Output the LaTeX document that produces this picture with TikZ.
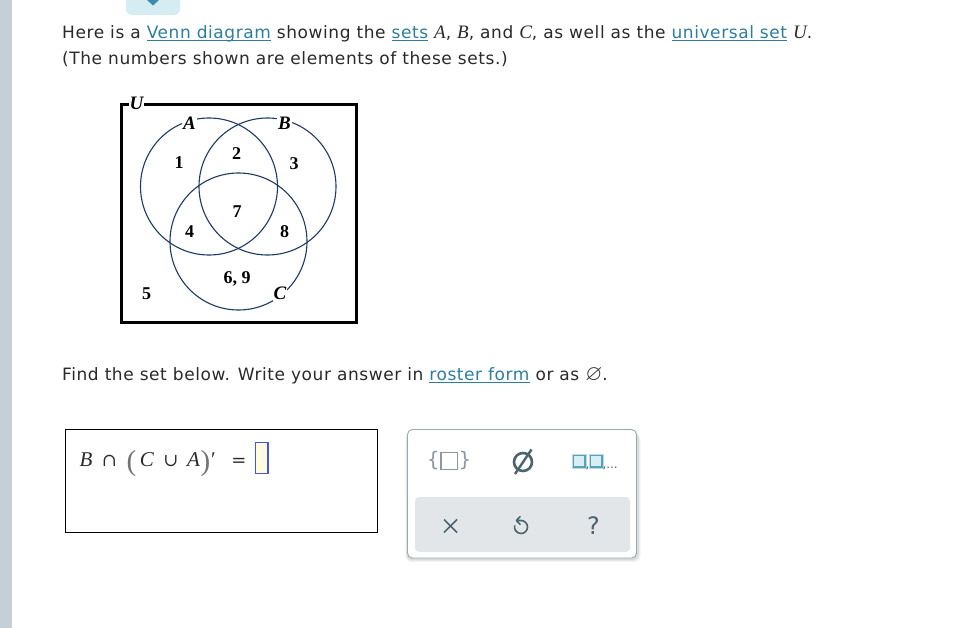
\documentclass[tikz,border=0pt]{standalone}
\usepackage{fontspec}
\usepackage{amssymb}
\setmainfont{DejaVu Sans}[LetterSpace=3.4]
\newfontfamily\djv{DejaVu Sans}
\newfontfamily\djs{DejaVu Serif}
\newfontfamily\tms{Liberation Serif}
\definecolor{linkc}{HTML}{2E7E9B}
\definecolor{bodyc}{HTML}{2A2A2A}
\definecolor{leftbar}{HTML}{C5D0D6}
\definecolor{tabc}{HTML}{D5ECF3}
\definecolor{tabarrow}{HTML}{3A8DA8}
\definecolor{venn}{HTML}{1F3A66}
\definecolor{kpborder}{HTML}{9AA8AF}
\definecolor{kpgray}{HTML}{E2E6E9}
\definecolor{iconc}{HTML}{4C6470}
\definecolor{sqfill}{HTML}{D8EEF4}
\definecolor{sqedge}{HTML}{56A2BA}
\definecolor{bracec}{HTML}{8A99A1}
\definecolor{ansfill}{HTML}{FFFBDC}
\definecolor{ansedge}{HTML}{4455EE}
\newsavebox\lnkbox
\newcommand\lnk[1]{{\color{linkc}\sbox\lnkbox{#1}\rlap{\rule[-2.8pt]{\wd\lnkbox}{1pt}}\usebox\lnkbox}}
\newcommand\mv[1]{{\tms\itshape\fontsize{19}{20}\selectfont #1}}
\tikzset{
  txt/.style={anchor=base west, inner sep=0, text=bodyc, font=\fontsize{17}{20}\selectfont},
  vcirc/.style={draw=venn, line width=1.1pt, circle, minimum size=137pt, inner sep=0},
  vlab/.style={fill=white, inner sep=0.8pt, font=\tms\bfseries\itshape\fontsize{19}{20}\selectfont},
  vnum/.style={inner sep=0, font=\tms\bfseries\fontsize{18}{20}\selectfont},
  fml/.style={anchor=base, inner sep=0, text=bodyc, font=\tms\itshape\fontsize{21}{22}\selectfont},
  fmlop/.style={anchor=base, inner sep=0, text=bodyc, font=\djs\fontsize{18}{20}\selectfont},
  fmlpar/.style={anchor=base, inner sep=0, text=black!55, font=\tms\fontsize{29}{29}\selectfont},
  icon/.style={inner sep=0, text=iconc},
}
\begin{document}
\begin{tikzpicture}[x=1pt,y=-1pt]
\useasboundingbox (0,0) rectangle (957,628);
\fill[white] (0,0) rectangle (957,628);
% left bar and top tab
\fill[leftbar] (0,0) rectangle (12,628);
\fill[tabc, rounded corners=6pt] (126,-10) rectangle (180,15);
\fill[tabarrow] (147,0) -- (159,0) -- (153,5.5) -- cycle;

% intro text
\node[txt] (l1) at (62,38.5) {Here is a \lnk{Venn diagram} showing the \lnk{sets} \mv{A}, \mv{B}, and \mv{C}, as well as the \lnk{universal set} \mv{U}.};
\node[txt] (l2) at (62,64.5) {(The numbers shown are elements of these sets.)};

% Venn diagram
\draw[line width=3pt] (121.5,105) rectangle (356.5,322.5);
\node[vcirc] (cA) at (209,186.5) {};
\node[vcirc] (cB) at (267.5,186.5) {};
\node[vcirc] (cC) at (238.5,241.5) {};
\node[vlab] (U) at (136.5,103.5) {U};
\node[vlab] (A) at (189.5,123.5) {A};
\node[vlab] (B) at (284.5,123.5) {B};
\node[vlab] (C) at (280,293.5) {C};
\node[vnum] (n1) at (179,163) {1};
\node[vnum] (n2) at (236.5,154) {2};
\node[vnum] (n3) at (294,164) {3};
\node[vnum] (n7) at (237,211.5) {7};
\node[vnum] (n4) at (189.5,232) {4};
\node[vnum] (n8) at (284.5,232) {8};
\node[vnum] (n69) at (237,278.5) {6, 9};
\node[vnum] (n5) at (146.5,294) {5};

% question text
\node[txt] (q) at (62,380.5) {Find the set below. Write your answer in \lnk{roster form} or as \raisebox{0.3pt}{\fontsize{22}{22}\selectfont$\varnothing$}.};

% answer box
\draw[line width=0.8pt, draw=black] (65.5,429.5) rectangle (377.5,532.5);
\node[fml] (fB) at (86,466) {B};
\node[fmlop] (fcap) at (109.5,466) {∩};
\node[fmlpar] (fl) at (131.5,470) {(};
\node[fml] (fC) at (147,466) {C};
\node[fmlop] (fcup) at (171,466) {∪};
\node[fml] (fA) at (193.5,466) {A};
\node[fmlpar] (fr) at (205.5,470) {)};
\node[fml, font=\tms\fontsize{21}{22}\selectfont] (fp) at (213.5,466) {′};
\node[fmlop] (feq) at (239,466) {=};
\draw[ansedge, fill=ansfill, line width=1.1pt] (255.5,442.5) rectangle (268,473.5);

% keypad
\foreach \s/\o in {4/0.04,3/0.05,2/0.06}{
  \fill[black, opacity=\o, rounded corners=6pt] (407.5-\s/2,430+\s) rectangle (636.5+\s,558+\s);
}
\draw[kpborder, fill=white, line width=0.9pt, rounded corners=5pt] (407.5,429.5) rectangle (636.5,558);
\fill[kpgray, rounded corners=4pt] (415,497) rectangle (630,552);

% {[]} icon
\node[icon, text=bracec, font=\djv\fontsize{20}{20}\selectfont] (br) at (449,461) {\{\hspace{19pt}\}};
\draw[bracec, line width=1.8pt] (441,452.5) rectangle (457.5,469.5);
% empty set icon
\draw[iconc, line width=2.6pt] (523,462) circle[radius=9];
\draw[iconc, line width=2.4pt] (515,474) -- (531.5,449.5);
% squares icon
\draw[sqedge!40, line width=3pt] (573.5,455.5) rectangle (585,467);
\draw[sqedge!40, line width=3pt] (590.5,455.5) rectangle (602,467);
\draw[sqedge, fill=sqfill, line width=1.8pt] (573.5,455.5) rectangle (585,467);
\draw[sqedge, fill=sqfill, line width=1.8pt] (590.5,455.5) rectangle (602,467);
\node[icon, anchor=base west, font=\djv\fontsize{12}{12}\selectfont] (cm1) at (585.5,468.5) {,};
\node[icon, anchor=base west, font=\djv\fontsize{12}{12}\selectfont] (cm2) at (602.3,468.5) {,...};
% clear, undo, help
\draw[iconc, line width=1.5pt] (444,519.5) -- (457,532.5) (457,519.5) -- (444,532.5);
\draw[iconc, line width=1.6pt] (521,520.5) arc[start angle=-90, end angle=195, radius=6.5];
\draw[iconc, line width=1.6pt, line cap=round, line join=round] (520,516.7) -- (516.4,520.5) -- (520,524.3) (516.4,520.5) -- (521,520.5);
\node[icon, font=\djv\fontsize{24}{24}\selectfont] (help) at (593.5,526) {?};
\end{tikzpicture}
\end{document}
